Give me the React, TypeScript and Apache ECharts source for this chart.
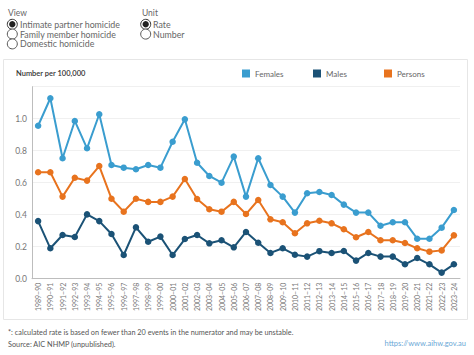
import React, { useEffect, useRef } from 'react';
import * as echarts from 'echarts';

const categories = [
  '1989–90', '1990–91', '1991–92', '1992–93', '1993–94', '1994–95', '1995–96',
  '1996–97', '1997–98', '1998–99', '1999–00', '2000–01', '2001–02', '2002–03',
  '2003–04', '2004–05', '2005–06', '2006–07', '2007–08', '2008–09', '2009–10',
  '2010–11', '2011–12', '2012–13', '2013–14', '2014–15', '2015–16', '2016–17',
  '2017–18', '2018–19', '2019–20', '2020–21', '2021–22', '2022–23', '2023–24',
];

const females = [
  0.956, 1.128, 0.753, 0.986, 0.815, 1.028, 0.711, 0.694, 0.684, 0.711,
  0.694, 0.856, 0.996, 0.725, 0.642, 0.6, 0.763, 0.513, 0.753, 0.586,
  0.513, 0.413, 0.534, 0.542, 0.523, 0.463, 0.413, 0.413, 0.331, 0.353,
  0.353, 0.25, 0.25, 0.319, 0.429,
];

const males = [
  0.36, 0.19, 0.273, 0.261, 0.402, 0.36, 0.279, 0.148, 0.321, 0.231,
  0.263, 0.148, 0.248, 0.273, 0.221, 0.24, 0.196, 0.292, 0.225, 0.161,
  0.19, 0.15, 0.138, 0.172, 0.161, 0.173, 0.113, 0.161, 0.138, 0.138,
  0.09, 0.129, 0.09, 0.038, 0.09,
];

const persons = [
  0.665, 0.665, 0.513, 0.631, 0.613, 0.704, 0.5, 0.419, 0.5, 0.48,
  0.48, 0.513, 0.623, 0.498, 0.434, 0.419, 0.48, 0.404, 0.492, 0.371,
  0.353, 0.284, 0.346, 0.362, 0.346, 0.309, 0.259, 0.292, 0.24, 0.24,
  0.223, 0.19, 0.169, 0.177, 0.271,
];

const seriesNames = ['Females', 'Males', 'Persons'];
const seriesColors = ['#3a9dcf', '#1b5276', '#e8731e'];
const viewOptions = ['Intimate partner homicide', 'Family member homicide', 'Domestic homicide'];
const unitOptions = ['Rate', 'Number'];

const FONT = 'Lato, "Open Sans", sans-serif';

function radio(x: number, y: number, selected: boolean) {
  const els: any[] = [
    {
      type: 'circle',
      shape: { cx: x, cy: y, r: 5 },
      style: { fill: '#fff', stroke: selected ? '#333' : '#555', lineWidth: 1 },
    },
  ];
  if (selected) {
    els.push({ type: 'circle', shape: { cx: x, cy: y, r: 3.2 }, style: { fill: '#222' } });
  }
  return els;
}

export default function App() {
  const ref = useRef<HTMLDivElement>(null);
  useEffect(() => {
    if (!ref.current) return;
    const chart = echarts.init(ref.current, undefined, { renderer: 'svg' });
    const data = [females, males, persons];

    const graphic: any[] = [
      {
        type: 'rect',
        shape: { x: 3.5, y: 59.5, width: 464, height: 260 },
        style: { fill: '#fff', stroke: '#e6e6e6', lineWidth: 1 },
        z: -10,
      },
      { type: 'text', x: 8, y: 13, style: { text: 'View', font: `8.5px ${FONT}`, fill: '#666', verticalAlign: 'middle' } },
      { type: 'text', x: 142, y: 13, style: { text: 'Unit', font: `8.5px ${FONT}`, fill: '#666', verticalAlign: 'middle' } },
    ];
    viewOptions.forEach((t, i) => {
      const y = 24.3 + i * 9.8;
      graphic.push(...radio(12.3, y, i === 0));
      graphic.push({ type: 'text', x: 20, y, style: { text: t, font: `8.8px ${FONT}`, fill: '#666', verticalAlign: 'middle' } });
    });
    unitOptions.forEach((t, i) => {
      const y = 24.3 + i * 9.8;
      graphic.push(...radio(145.7, y, i === 0));
      graphic.push({ type: 'text', x: 153, y, style: { text: t, font: `8.8px ${FONT}`, fill: '#666', verticalAlign: 'middle' } });
    });
    graphic.push(
      { type: 'text', x: 16, y: 73, style: { text: 'Number per 100,000', font: `600 7.5px ${FONT}`, fill: '#333', verticalAlign: 'middle' } },
      { type: 'text', x: 8, y: 332, style: { text: '*: calculated rate is based on fewer than 20 events in the numerator and may be unstable.', font: `7.3px ${FONT}`, fill: '#555', verticalAlign: 'middle' } },
      { type: 'text', x: 8, y: 344, style: { text: 'Source: AIC NHMP (unpublished).', font: `7.3px ${FONT}`, fill: '#555', verticalAlign: 'middle' } },
      { type: 'text', x: 466, y: 343, style: { text: 'https://www.aihw.gov.au', font: `7.5px ${FONT}`, fill: '#6aa8d6', align: 'right', verticalAlign: 'middle', textDecoration: 'underline' } },
    );

    const legendLefts = [242, 313, 384];

    chart.setOption({
      animation: false,
      textStyle: { fontFamily: FONT },
      graphic,
      legend: seriesNames.map((n, i) => ({
        data: [n],
        left: legendLefts[i],
        top: 69.5,
        icon: 'rect',
        itemWidth: 8,
        itemHeight: 8,
        itemGap: 4,
        padding: 0,
        selectedMode: false,
        textStyle: { fontSize: 8, color: '#666', fontFamily: FONT, padding: [0, 0, 0, 0] },
      })),
      grid: { left: 32, right: 14, top: 86.7, bottom: 76.3, containLabel: false },
      xAxis: {
        type: 'category',
        data: categories,
        boundaryGap: true,
        axisLine: { lineStyle: { color: '#bdbdbd' } },
        axisTick: { show: false },
        axisLabel: { rotate: 90, fontSize: 7, color: '#777', margin: 4, interval: 0, fontFamily: FONT },
      },
      yAxis: {
        type: 'value',
        min: 0,
        max: 1.2,
        interval: 0.2,
        axisLine: { show: true, lineStyle: { color: '#bdbdbd' } },
        axisTick: { show: false },
        splitLine: { lineStyle: { color: '#f0f0f0' } },
        axisLabel: {
          fontSize: 8.5,
          color: '#777',
          margin: 5,
          fontFamily: FONT,
          formatter: (v: number) => (v > 1.1 ? '' : v.toFixed(1)),
        },
      },
      series: seriesNames.map((n, i) => ({
        name: n,
        type: 'line',
        data: data[i],
        symbol: 'circle',
        symbolSize: 6.5,
        showSymbol: true,
        color: seriesColors[i],
        lineStyle: { width: 2, color: seriesColors[i] },
        itemStyle: { color: seriesColors[i] },
        z: i === 1 ? 3 : 2,
      })),
    });
    return () => chart.dispose();
  }, []);
  return (
    <div
      ref={ref}
      style={{ position: 'fixed', left: 0, top: 0, width: 474, height: 355, background: '#fff' }}
    />
  );
}
